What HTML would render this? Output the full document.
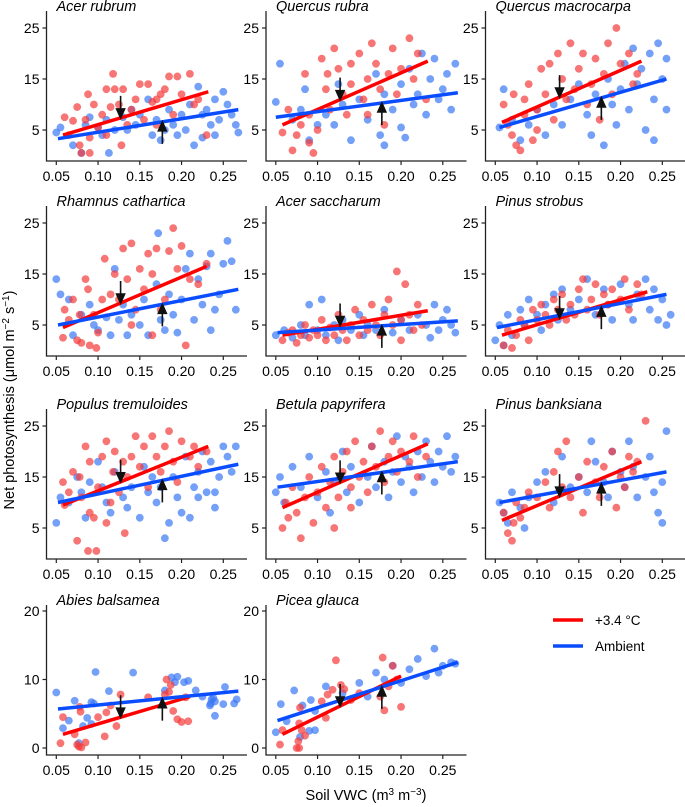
<!DOCTYPE html>
<html><head><meta charset="utf-8">
<style>
html,body{margin:0;padding:0;background:#fff;}
svg{display:block;font-family:"Liberation Sans",Arial,sans-serif;}
</style></head>
<body>
<svg id="chart" width="685" height="807" viewBox="0 0 685 807" xmlns="http://www.w3.org/2000/svg">
<text transform="translate(14,400) rotate(-90)" text-anchor="middle" font-size="14.5">Net photosynthesis (μmol m<tspan dy="-5" font-size="10">−2</tspan><tspan dy="5"> s</tspan><tspan dy="-5" font-size="10">−1</tspan><tspan dy="5">)</tspan></text>
<text x="366" y="800" text-anchor="middle" font-size="14.5">Soil VWC (m<tspan dy="-5" font-size="10">3</tspan><tspan dy="5"> m</tspan><tspan dy="-5" font-size="10">−3</tspan><tspan dy="5">)</tspan></text>
<g>
<line x1="553" y1="620" x2="583" y2="620" stroke="#ff0000" stroke-width="3.5"/>
<text x="595" y="625" font-size="13.5">+3.4 °C</text>
<line x1="553" y1="646" x2="583" y2="646" stroke="#0a4dff" stroke-width="3.5"/>
<text x="595" y="651" font-size="13.5">Ambient</text>
</g>
</svg>
<script>
const speciesNames=["Acer rubrum","Quercus rubra","Quercus macrocarpa","Rhamnus cathartica","Acer saccharum","Pinus strobus","Populus tremuloides","Betula papyrifera","Pinus banksiana","Abies balsamea","Picea glauca"];
const xTicks=[0.05,0.10,0.15,0.20,0.25];
const yTicksMain=[5,15,25];
const yTicksLow=[0,10,20];
const redLines=[[0.058,4,0.232,12.5],[0.058,6,0.232,18.5],[0.058,6.5,0.225,18.5],[0.058,4.5,0.23,16.5],[0.058,3,0.232,7.8],[0.058,3,0.232,11.5],[0.058,9.5,0.232,21],[0.058,9,0.232,21.5],[0.058,6.5,0.225,18],[0.058,2,0.21,7.5],[0.058,2,0.2,10.5]];
const blueLines=[[0.052,3.3,0.268,9],[0.05,7.5,0.268,12.3],[0.055,5.5,0.255,15],[0.052,5,0.268,12],[0.052,3.5,0.268,5.8],[0.052,4.5,0.255,11],[0.052,10,0.268,17.5],[0.052,13,0.268,18],[0.055,10,0.255,16],[0.052,5.7,0.268,8.3],[0.052,4,0.268,12.5]];
const redPts=[
[0.06,7.5,0.065,4,0.07,6.8,0.075,9.5,0.078,2,0.08,0.5,0.085,7,0.088,12,0.09,0.5,0.095,10,0.1,5.5,0.105,8,0.11,13,0.115,9.5,0.118,16,0.12,13,0.125,10,0.13,13,0.128,2,0.14,9,0.145,11,0.15,14,0.155,7,0.16,14,0.165,10.5,0.17,11,0.175,12,0.18,13,0.185,15.5,0.19,8,0.195,15.5,0.2,12,0.21,16,0.215,10,0.22,11,0.23,4,0.17,6,0.135,6,0.11,4,0.09,3.5],
[0.058,4.5,0.065,9,0.07,1,0.075,4,0.08,6,0.085,16,0.09,8,0.09,2.5,0.095,0.5,0.1,5,0.105,19,0.11,13,0.112,16,0.115,9,0.12,21,0.125,17,0.13,12,0.135,8,0.14,14,0.15,20,0.155,11,0.16,15,0.165,22,0.17,18,0.175,13,0.18,6,0.185,16,0.19,21,0.195,12,0.2,17,0.21,23,0.215,15,0.22,20,0.23,11,0.16,8,0.14,18],
[0.06,10,0.065,6,0.07,4,0.072,12,0.075,2,0.08,1,0.085,8,0.09,14,0.095,3,0.1,9,0.105,17,0.11,12,0.115,18,0.12,7,0.125,20,0.13,15,0.135,11,0.14,22,0.145,13,0.15,17,0.155,20,0.16,10,0.165,14,0.17,19,0.175,7,0.18,16,0.185,22,0.19,12,0.195,25,0.2,18,0.21,20,0.215,14,0.22,16,0.1,5,0.085,11],
[0.058,2.5,0.06,8,0.065,6,0.07,10,0.075,2,0.078,7,0.08,1.5,0.085,14,0.088,12,0.09,1,0.095,7,0.098,0.5,0.1,3.5,0.105,10,0.108,18,0.115,11,0.12,15,0.125,10,0.13,20,0.135,14,0.14,21,0.145,8,0.15,16,0.155,12,0.16,19,0.165,15,0.17,20,0.175,8,0.18,10,0.185,19.5,0.19,24,0.195,16,0.2,20.5,0.205,1,0.21,14,0.22,13,0.23,17,0.165,3,0.14,5],
[0.058,2,0.065,3.5,0.07,4,0.075,1.5,0.08,3,0.085,5,0.09,2.5,0.095,4,0.1,3,0.105,6,0.11,2,0.115,4.5,0.12,3,0.125,7,0.13,4,0.135,2,0.14,5,0.145,8,0.15,3,0.155,6,0.16,4,0.165,9,0.17,5,0.175,3,0.18,7,0.185,10,0.19,5,0.195,15.5,0.2,6,0.205,13,0.21,7,0.215,4,0.22,9,0.225,5,0.2,2],
[0.06,1,0.065,4,0.07,0.5,0.075,3,0.08,6,0.085,5,0.09,2,0.095,8,0.1,6,0.105,9,0.11,7,0.115,5,0.12,10,0.125,8,0.13,11,0.135,6,0.14,9,0.145,7,0.15,12,0.155,14,0.16,8,0.165,10,0.17,13,0.175,7,0.18,11,0.185,9,0.19,12,0.2,10,0.205,14,0.21,8,0.22,13,0.225,11],
[0.058,14,0.06,9.5,0.065,12,0.07,16,0.075,2.5,0.078,15,0.08,11,0.085,21,0.088,0.5,0.09,18,0.095,7,0.098,0.5,0.1,13,0.105,19,0.11,22,0.115,10,0.118,16,0.12,20,0.125,12,0.13,18,0.132,4,0.135,15,0.14,19,0.145,23,0.15,17,0.155,21,0.16,13,0.165,23,0.17,19,0.175,16,0.18,21,0.185,24,0.19,18,0.195,14,0.2,22,0.21,19,0.215,21,0.22,17,0.23,20,0.11,6,0.09,8],
[0.058,5,0.062,10,0.065,7,0.07,13,0.075,8,0.08,3,0.085,11,0.09,15,0.095,6,0.1,12,0.105,17,0.11,9,0.115,14,0.12,19,0.125,11,0.13,16,0.135,20,0.14,13,0.145,22,0.15,15,0.155,18,0.16,12,0.165,21,0.17,17,0.175,24,0.18,14,0.185,19,0.19,22,0.195,16,0.2,20,0.21,18,0.215,23,0.22,15,0.23,19,0.14,9,0.12,5],
[0.06,8,0.065,4,0.07,2.5,0.072,6,0.075,10,0.08,7,0.085,9,0.09,12,0.1,11,0.11,14,0.115,9,0.12,16,0.125,20,0.13,13,0.135,22,0.14,11,0.15,15,0.155,8,0.16,18,0.17,14,0.175,11,0.18,17,0.19,20,0.195,9,0.2,15,0.205,13,0.21,19,0.215,16,0.22,18,0.23,26],
[0.055,0.7,0.058,4.5,0.072,2,0.075,0.5,0.077,0.2,0.078,6,0.079,5.3,0.08,0.1,0.085,0.8,0.1,4.5,0.108,1.7,0.11,5.2,0.115,6.2,0.122,3.2,0.127,7.8,0.16,7.4,0.18,7.8,0.182,10,0.185,8.2,0.187,9.2,0.19,5.4,0.195,4.2,0.2,3.8,0.208,3.9,0.205,7.4],
[0.055,0.5,0.058,2.6,0.075,0,0.078,0,0.077,1,0.078,3.6,0.079,5.9,0.081,2.6,0.085,1.8,0.105,6.8,0.11,4.4,0.112,7.8,0.118,8.5,0.122,12.8,0.128,9.2,0.132,8.6,0.14,7,0.15,8,0.175,7.5,0.178,13.2,0.18,5.5,0.185,9,0.19,12,0.195,10,0.2,6]];
const bluePts=[
[0.05,4.5,0.055,5.5,0.07,2,0.08,0.5,0.085,6,0.09,7.5,0.1,5.5,0.105,4,0.11,7,0.113,0.5,0.12,5,0.13,7.5,0.135,5,0.14,9,0.145,6,0.15,8,0.16,11,0.165,4,0.17,7,0.175,3,0.18,5,0.185,9,0.19,6,0.195,4,0.2,8,0.205,5,0.21,10,0.215,2,0.22,13.5,0.225,8,0.23,9,0.235,6,0.24,11,0.245,7,0.25,12.5,0.255,10,0.26,8,0.265,6,0.268,4.5,0.225,3.5,0.24,4],
[0.05,10.5,0.055,18,0.07,7,0.08,9,0.085,13,0.09,3,0.1,6,0.11,8,0.12,6,0.125,14,0.13,10,0.14,3,0.15,11,0.16,7,0.17,16,0.175,4,0.18,12,0.19,9,0.2,14,0.205,3.5,0.21,17,0.215,10,0.22,12,0.225,20,0.23,8,0.235,15,0.24,19,0.245,11,0.25,13,0.255,16,0.26,9,0.265,18,0.2,5.5,0.18,2],
[0.055,5.5,0.06,13,0.07,7,0.08,3,0.09,6,0.1,9,0.11,4,0.12,10,0.13,6,0.14,11,0.15,14,0.16,8,0.165,4,0.17,12,0.18,2,0.185,15,0.19,10,0.195,6,0.2,13,0.205,18,0.21,9,0.215,21,0.22,14,0.225,17,0.23,5,0.235,20,0.24,11,0.245,22,0.25,15,0.255,19,0.255,9,0.24,3],
[0.05,14,0.055,11,0.065,10,0.07,3,0.08,7,0.09,9,0.095,5,0.1,4,0.11,6.5,0.115,3,0.12,16,0.125,6,0.13,9,0.135,3,0.14,7,0.15,5,0.155,10,0.16,3,0.17,13,0.172,23,0.175,6,0.18,4,0.185,11,0.19,7,0.195,3.5,0.2,10,0.205,16,0.21,19,0.215,6,0.22,14,0.225,9,0.23,16.5,0.235,19,0.24,8,0.245,11,0.25,17,0.255,21.5,0.26,17.5,0.265,8,0.235,4],
[0.05,3,0.06,4,0.07,2.5,0.08,5,0.085,3,0.09,9,0.1,4,0.105,10,0.11,3,0.12,5,0.125,2,0.13,6,0.14,4,0.15,7,0.155,3,0.16,5,0.17,4,0.18,8,0.19,3.5,0.2,6,0.21,4,0.22,7,0.23,5,0.24,9,0.245,4,0.25,6,0.26,5,0.265,3.5,0.255,8,0.235,2.5],
[0.05,2,0.055,5,0.06,1,0.065,7,0.07,3,0.08,8,0.085,5,0.09,10,0.1,7,0.105,4,0.11,9,0.12,11,0.125,6,0.13,12,0.14,8,0.15,10,0.16,14,0.17,7,0.18,12,0.185,9,0.19,6,0.2,13,0.21,9,0.215,6,0.22,11,0.23,14,0.235,8,0.24,12,0.245,6,0.25,10,0.255,5,0.26,7],
[0.05,6,0.055,11,0.065,10,0.075,15,0.08,12,0.085,7,0.09,14,0.1,18,0.105,13,0.11,10,0.115,8,0.12,16,0.13,11,0.135,9,0.14,13,0.15,7,0.155,17,0.16,12,0.165,15,0.17,10,0.175,13,0.18,3,0.185,6,0.19,15,0.195,11,0.2,8,0.205,19,0.21,7,0.215,13,0.22,16,0.225,20,0.23,12,0.235,18,0.24,9,0.245,15,0.25,21,0.255,19,0.26,16,0.265,21,0.24,12,0.22,11],
[0.05,12,0.055,15,0.06,10,0.07,17,0.08,13,0.09,19,0.1,11,0.11,16,0.115,8,0.12,14,0.13,20,0.135,12,0.14,17,0.15,10,0.16,15,0.165,21,0.17,13,0.18,18,0.185,11,0.19,16,0.195,23,0.2,14,0.205,19,0.21,17,0.215,12,0.22,20,0.225,15,0.23,22,0.235,18,0.24,14,0.245,20,0.25,17,0.255,23,0.26,16,0.265,19],
[0.055,10,0.06,8,0.065,6,0.07,12,0.08,9,0.085,5,0.09,11,0.1,14,0.11,16,0.12,10,0.13,19,0.14,13,0.15,15,0.16,12,0.165,22,0.17,18,0.18,14,0.185,11,0.19,20,0.2,16,0.205,13,0.21,22,0.215,17,0.22,11,0.23,15,0.235,19,0.24,12,0.245,8,0.25,14,0.255,24,0.25,6],
[0.05,8.1,0.058,2.9,0.065,4,0.072,6.9,0.077,0.7,0.082,3.2,0.087,4.4,0.092,6.7,0.095,6.5,0.092,3.5,0.097,11.1,0.113,8.3,0.142,11,0.18,8.4,0.188,10.3,0.192,9.6,0.195,10.4,0.203,9.6,0.208,9.8,0.217,8.4,0.225,7.5,0.234,6.2,0.235,6.5,0.236,7.1,0.238,7.3,0.24,4.7,0.24,6.8,0.25,6.4,0.252,8.9,0.263,6.5,0.266,7.1],
[0.05,2.3,0.056,6.4,0.063,3.9,0.072,8.4,0.079,1.6,0.082,6.2,0.09,2.5,0.092,7,0.097,2.6,0.097,5.4,0.11,9,0.13,8,0.15,9.5,0.16,7.5,0.17,11,0.18,10,0.19,12,0.2,9.5,0.21,11.5,0.22,13,0.23,10.5,0.24,14.5,0.245,11,0.25,12,0.26,12.5,0.265,12.3]];
const downArrowX=0.127, upArrowX=0.177;

const NS="http://www.w3.org/2000/svg";
const svg=document.getElementById('chart');
const colLeft=[46.5,266,485.5];
const rowTop=[11,206,409,605];
function mk(tag,attrs,parent){const e=document.createElementNS(NS,tag);for(const k in attrs)e.setAttribute(k,attrs[k]);parent.appendChild(e);return e;}
function slug(s){return s.toLowerCase().replace(/\s+/g,'-');}
function interp(l,x){return l[1]+(l[3]-l[1])*(x-l[0])/(l[2]-l[0]);}

speciesNames.forEach((name,i)=>{
  const r=Math.floor(i/3), c=i%3;
  const L=colLeft[c], T=rowTop[r], B=T+150, R=L+200.5;
  const low=r===3;
  const sx=v=>L+9.8+(v-0.05)*835;
  const sy=low?(v=>T+6+(20-v)*6.85):(v=>T+17+(25-v)*5.1);
  const g=mk('g',{},svg);
  
  
  const title=mk('text',{x:L+10,y:T,'font-size':14.5,'font-style':'italic'},g);
  title.textContent=name;
  
  
  const ax=mk('path',{d:`M${L},${T} V${B} H${R}`,fill:'none',stroke:'#222','stroke-width':1.3},g);
  
  
  (low?yTicksLow:yTicksMain).forEach(v=>{
    mk('line',{x1:L-4,x2:L,y1:sy(v),y2:sy(v),stroke:'#222','stroke-width':1.2},g);
    const t=mk('text',{x:L-7,y:sy(v)+5,'text-anchor':'end','font-size':14},g);
    t.textContent=v;
    
    
  });
  xTicks.forEach(v=>{
    mk('line',{x1:sx(v),x2:sx(v),y1:B,y2:B+4,stroke:'#222','stroke-width':1.2},g);
    const t=mk('text',{x:sx(v),y:B+20,'text-anchor':'middle','font-size':14},g);
    t.textContent=v.toFixed(2);
    
    
  });
  const pts=[[bluePts[i],'#3a78f5','ambient-point'],[redPts[i],'#f53a3a','warmed-point']];
  pts.forEach(([arr,col,nm])=>{
    for(let k=0;k<arr.length;k+=2){
      const p=mk('circle',{cx:sx(arr[k]),cy:sy(arr[k+1]),r:3.9,fill:col,'fill-opacity':0.7},g);
      
      
    }
  });
  const rl=redLines[i], bl=blueLines[i];
  const lr=mk('line',{x1:sx(rl[0]),y1:sy(rl[1]),x2:sx(rl[2]),y2:sy(rl[3]),stroke:'#ff0000','stroke-width':3.5},g);
  
  
  const lb=mk('line',{x1:sx(bl[0]),y1:sy(bl[1]),x2:sx(bl[2]),y2:sy(bl[3]),stroke:'#0a4dff','stroke-width':3.5},g);
  
  
  const dx=sx(downArrowX), dy=sy(interp(rl,downArrowX));
  const da=mk('path',{d:`M${dx},${dy-22} V${dy-6} M${dx-4},${dy-9} L${dx},${dy} L${dx+4},${dy-9} Z`,fill:'#111',stroke:'#111','stroke-width':1.6},g);
  
  
  const ux=sx(upArrowX), uy=sy(interp(bl,upArrowX));
  const ua=mk('path',{d:`M${ux},${uy+22} V${uy+6} M${ux-4},${uy+9} L${ux},${uy} L${ux+4},${uy+9} Z`,fill:'#111',stroke:'#111','stroke-width':1.6},g);
  
  
});
</script>
</body></html>
